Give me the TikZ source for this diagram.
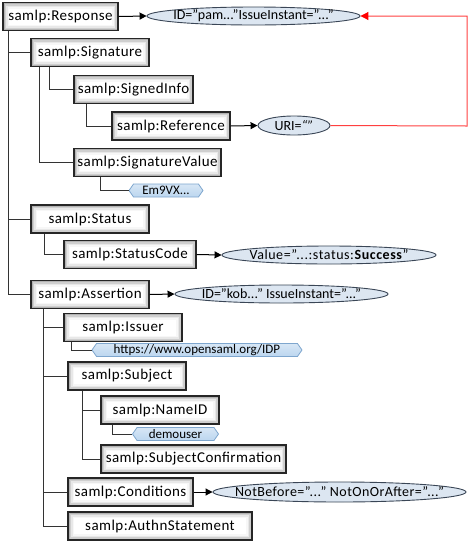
\documentclass[tikz,border=0pt]{standalone}
\usepackage{fontspec}
\setmainfont{Carlito}
\usetikzlibrary{shapes.geometric,shapes.symbols,arrows.meta}
\definecolor{ellfill}{HTML}{DCE6F1}
\definecolor{elldraw}{HTML}{3A4656}
\definecolor{hexfill}{HTML}{BCD6EF}
\definecolor{hexdraw}{HTML}{7EA6CE}
\definecolor{treeline}{HTML}{333333}
\tikzset{
  elem/.style={rectangle, draw=black!85, line width=1.1pt, minimum width=#1, minimum height=28pt,
    inner sep=0pt, font=\fontsize{15}{17}\selectfont\addfontfeatures{LetterSpace=3},
    path picture={
      \fill[gray!60] (path picture bounding box.south west) rectangle (path picture bounding box.north east);
      \fill[gray!38] ([shift={(1.5pt,1.5pt)}]path picture bounding box.south west) rectangle ([shift={(-1.5pt,-1.5pt)}]path picture bounding box.north east);
      \fill[gray!18] ([shift={(3pt,3pt)}]path picture bounding box.south west) rectangle ([shift={(-3pt,-3pt)}]path picture bounding box.north east);
      \fill[gray!6] ([shift={(4.5pt,4.5pt)}]path picture bounding box.south west) rectangle ([shift={(-4.5pt,-4.5pt)}]path picture bounding box.north east);
      \fill[white] ([shift={(6pt,6pt)}]path picture bounding box.south west) rectangle ([shift={(-6pt,-6pt)}]path picture bounding box.north east);
    }},
  attr/.style={ellipse, draw=elldraw, line width=0.9pt, fill=ellfill, minimum width=#1, minimum height=18pt,
    inner sep=0pt},
  attrtext/.style={inner sep=0pt, font=\fontsize{14}{15}\selectfont},
  val/.style={signal, signal to=west and east, signal pointer angle=110, draw=hexdraw, line width=0.8pt,
    top color=hexfill!60, bottom color=hexfill, middle color=hexfill!80,
    minimum width=#1, minimum height=13pt, inner sep=0pt, font=\fontsize{13}{14}\selectfont},
  tree/.style={draw=treeline, line width=1pt},
  arr/.style={draw=black, line width=1pt, -{Triangle[width=7pt,length=7pt]}},
  redarr/.style={draw=red!75!white, line width=1pt, -{Triangle[width=8pt,length=8pt,fill=red,color=red]}},
}
\begin{document}
\begin{tikzpicture}[x=1pt,y=-1pt]
\useasboundingbox (0,0) rectangle (474,542);
% elements
\node[elem=115pt] (resp) at (60.5,16.5) {samlp:Response};
\node[elem=118pt] (sig) at (90,52.5) {samlp:Signature};
\node[elem=119pt] (sinfo) at (133.5,89.5) {samlp:SignedInfo};
\node[elem=118pt] (ref) at (171,126) {samlp:Reference};
\node[elem=147pt] (sval) at (147.5,162.5) {samlp:SignatureValue};
\node[elem=118pt] (stat) at (90,219) {samlp:Status};
\node[elem=132pt] (scode) at (130,254.5) {samlp:StatusCode};
\node[elem=118pt] (assert) at (90,294.5) {samlp:Assertion};
\node[elem=118pt] (issuer) at (123,327.5) {samlp:Issuer};
\node[elem=118pt] (subj) at (127,376) {samlp:Subject};
\node[elem=118pt] (nameid) at (160,410) {samlp:NameID};
\node[elem=185pt] (sconf) at (193.5,459) {samlp:SubjectConfirmation};
\node[elem=125pt] (cond) at (130.5,492) {samlp:Conditions};
\node[elem=184pt] (authn) at (160,526) {samlp:AuthnStatement};
% attributes
\node[attr=213pt] (a1) at (253.5,16) {};
\node[attrtext] (a1t) at (a1) {ID="pam..."IssueInstant="..."};
\node[attr=72pt, minimum height=19pt] (uri) at (294,125.5) {};
\node[attrtext] (urit) at (uri) {URI=\textit{“”}};
\node[attr=214pt] (a2) at (329,255) {};
\node[attrtext] (a2t) at (a2) {\addfontfeatures{LetterSpace=4}Value="...:status:\textbf{Success}"};
\node[attr=213pt] (a3) at (281.5,294) {};
\node[attrtext] (a3t) at (a3) {ID="kob..." IssueInstant="..."};
\node[attr=253pt, minimum height=20pt] (a4) at (339.5,492) {};
\node[attrtext] (a4t) at (a4) {\addfontfeatures{LetterSpace=3}NotBefore="..." NotOnOrAfter="..."};
% values
\node[val=74pt] (v1) at (166,190.5) {Em9VX...};
\node[val=210pt] (v2) at (197,350) {https://www.opensaml.org/IDP};
\node[val=86pt] (v3) at (175.5,434) {demouser};
% tree connectors
\draw[tree] ([xshift=6pt]resp.south west) |- (sig.west);
\draw[tree] ([xshift=6pt]resp.south west) |- (stat.west);
\draw[tree] ([xshift=6pt]resp.south west) |- (assert.west);
\draw[tree] ([xshift=19pt]sig.south west) |- (sinfo.west);
\draw[tree] ([xshift=9pt]sig.south west) |- (sval.west);
\draw[tree] ([xshift=13pt]sinfo.south west) |- (ref.west);
\draw[tree] ([xshift=27pt]sval.south west) |- (v1.west);
\draw[tree] ([xshift=14pt]stat.south west) |- (scode.west);
\draw[tree] ([xshift=13pt]assert.south west) |- (issuer.west);
\draw[tree] ([xshift=13pt]assert.south west) |- (subj.west);
\draw[tree] ([xshift=13pt]assert.south west) |- (cond.west);
\draw[tree] ([xshift=13pt]assert.south west) |- (authn.west);
\draw[tree] ([xshift=8pt]issuer.south west) |- (v2.west);
\draw[tree] ([xshift=15pt]subj.south west) |- (nameid.west);
\draw[tree] ([xshift=15pt]subj.south west) |- (sconf.west);
\draw[tree] ([xshift=12pt]nameid.south west) |- (v3.west);
% attribute arrows
\draw[arr] (resp.east) -- (a1.west);
\draw[arr] (ref.east) -- (uri.west);
\draw[arr] (scode.east) -- (a2.west);
\draw[arr] (assert.east) -- (a3.west);
\draw[arr] (cond.east) -- (a4.west);
% reference link
\coordinate (rc) at (467,126);
\draw[redarr] (uri.east) -- (rc) |- (a1.east);
\end{tikzpicture}
\end{document}
